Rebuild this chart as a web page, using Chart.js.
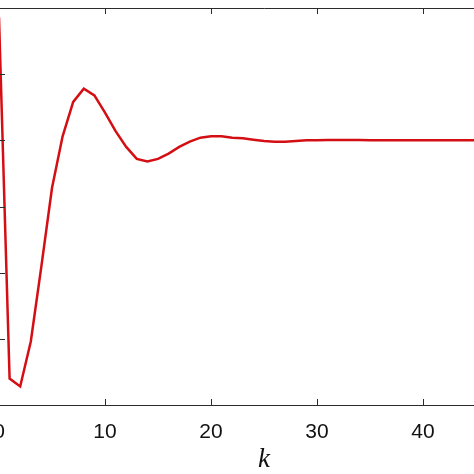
<!DOCTYPE html>
<html>
<head>
<meta charset="utf-8">
<script src="https://cdn.jsdelivr.net/npm/chart.js@4"></script>
<style>
html, body { margin: 0; padding: 0; background: #fff; overflow: hidden; }
#wrap { position: absolute; left: -1px; top: 0; width: 534px; height: 474px; }
</style>
</head>
<body>
<div id="wrap"><canvas id="response-chart"></canvas></div>
<script>
// step index k and response y(k)
var kValues = [];
for (var i = 0; i <= 50; i++) kValues.push(i);
var yValues = [1.93, -0.80, -0.86, -0.52, 0.05, 0.64, 1.03, 1.29, 1.39, 1.34,
               1.21, 1.07, 0.95, 0.86, 0.84, 0.86, 0.90, 0.95, 0.99, 1.02,
               1.03, 1.03, 1.02, 1.015, 1.005, 0.995, 0.99, 0.99, 0.995, 1.0,
               1.0, 1.003, 1.003, 1.003, 1.002, 1.0, 1.0, 1.0, 1.0, 1.0,
               1.0, 1.0, 1.0, 1.0, 1.0, 1.0, 1.0, 1.0, 1.0, 1.0, 1.0];
var xTicks = [0, 10, 20, 30, 40, 50];
var yTicks = [-1, -0.5, 0, 0.5, 1, 1.5, 2];

// box around the plot with short inward ticks (matlab style)
var boxTicks = {
    id: 'boxTicks',
    afterDraw: function (chart) {
        var c = chart.ctx, a = chart.chartArea;
        var xs = chart.scales.x, ys = chart.scales.y;
        c.save();
        c.strokeStyle = '#2b2b2b';
        c.lineWidth = 1;
        c.beginPath();
        c.moveTo(a.left + 0.5, a.bottom + 0.5);
        c.lineTo(a.left + 0.5, a.top + 0.5);
        c.lineTo(a.right, a.top + 0.5);
        c.moveTo(a.left, a.bottom + 0.5);
        c.lineTo(a.right, a.bottom + 0.5);
        xTicks.forEach(function (t) {
            var px = Math.round(xs.getPixelForValue(t)) + 0.5;
            c.moveTo(px, a.bottom);
            c.lineTo(px, a.bottom - 6);
            c.moveTo(px, a.top);
            c.lineTo(px, a.top + 6);
        });
        yTicks.forEach(function (t) {
            var py = Math.round(ys.getPixelForValue(t)) + 0.5;
            c.moveTo(a.left, py);
            c.lineTo(a.left + 6, py);
        });
        c.stroke();
        c.restore();
    }
};

document.addEventListener('DOMContentLoaded', function () {
    var ctx = document.getElementById('response-chart').getContext('2d');
    var pts = kValues.map(function (k, i) { return { x: k, y: yValues[i] }; });
    new Chart(ctx, {
        type: 'line',
        data: {
            datasets: [{
                data: pts,
                borderColor: '#d40f14',
                borderWidth: 2.5,
                pointRadius: 0,
                tension: 0,
                fill: false
            }]
        },
        options: {
            responsive: true,
            maintainAspectRatio: false,
            animation: false,
            layout: { padding: { top: 8, left: 0, right: 4, bottom: 0 } },
            plugins: { legend: { display: false }, tooltip: { enabled: false } },
            scales: {
                x: {
                    type: 'linear',
                    min: 0,
                    max: 50,
                    afterBuildTicks: function (scale) {
                        scale.ticks = xTicks.map(function (v) { return { value: v }; });
                    },
                    afterFit: function (scale) {
                        scale.height = 69;
                        scale.paddingLeft = 0;
                        scale.paddingRight = 0;
                    },
                    grid: { display: false, drawTicks: false },
                    border: { display: false },
                    ticks: {
                        padding: 15,
                        color: '#111',
                        maxRotation: 0,
                        font: { family: 'Liberation Sans', size: 21 }
                    },
                    title: {
                        display: true,
                        text: 'k',
                        color: '#111',
                        padding: { top: 0, bottom: -2 },
                        font: { family: 'Liberation Serif', style: 'italic', size: 27 }
                    }
                },
                y: {
                    min: -1,
                    max: 2,
                    afterFit: function (scale) {
                        scale.width = 0;
                        scale.paddingTop = 0;
                        scale.paddingBottom = 0;
                    },
                    grid: { display: false, drawTicks: false },
                    border: { display: false },
                    ticks: { display: false }
                }
            }
        },
        plugins: [boxTicks]
    });
});
</script>
</body>
</html>
